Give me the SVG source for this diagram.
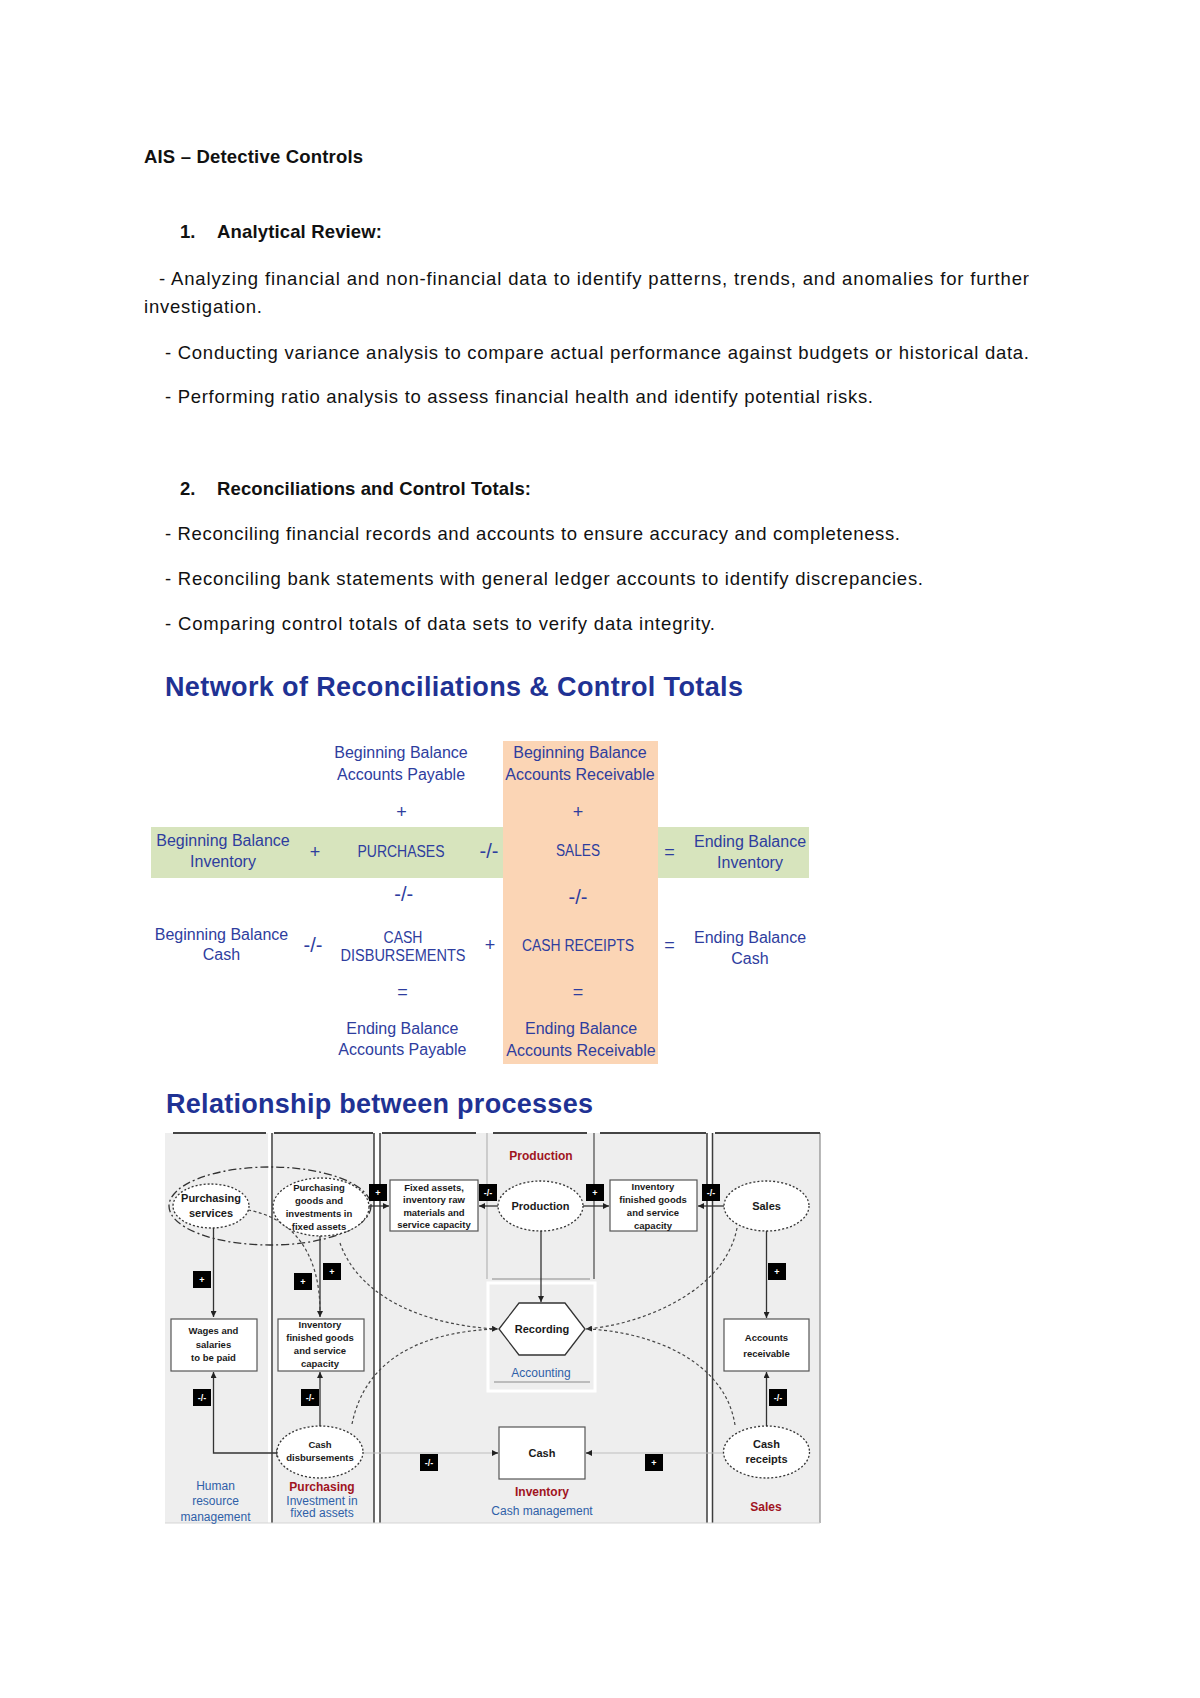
<svg xmlns="http://www.w3.org/2000/svg" width="1200" height="1698" viewBox="0 0 1200 1698">
<defs>
<style>
.bd{font-family:"Liberation Sans",Arial,sans-serif;font-size:18.5px;fill:#111}
.b{font-weight:bold}
.ttl{font-family:"Liberation Sans",Arial,sans-serif;font-size:27px;font-weight:bold;fill:#1F3294}
.nt{font-family:"Liberation Sans",Arial,sans-serif;font-size:16px;fill:#2E3D9E;text-anchor:middle}
.op{font-size:18px}
.sl{font-size:20px}
.lane{fill:#EEEEEE}
.vl{stroke:#3d3d3d;stroke-width:1.5}
.tl{stroke:#444;stroke-width:2}
.gl{stroke:#8a8a8a;stroke-width:1.2}
.box{fill:#fff;stroke:#555;stroke-width:1.2}
.ell{fill:#fff;stroke:#333;stroke-width:1.3;stroke-dasharray:2 2}
.big{fill:none;stroke:#333;stroke-width:1.3;stroke-dasharray:8 3 2 3}
.nd{font-family:"Liberation Sans",Arial,sans-serif;font-size:9.5px;font-weight:bold;fill:#1a1a1a;text-anchor:middle}
.ne{font-size:11px}
.sq{fill:#000}
.sqt{font-family:"Liberation Sans",Arial,sans-serif;font-size:9px;font-weight:bold;fill:#fff;text-anchor:middle}
.lr{font-family:"Liberation Sans",Arial,sans-serif;font-size:12px;font-weight:bold;fill:#A0141E;text-anchor:middle}
.lb{font-family:"Liberation Sans",Arial,sans-serif;font-size:12px;fill:#2F5FA8;text-anchor:middle}
.c{fill:none;stroke:#333;stroke-width:1.3}
.cl{fill:none;stroke:#bdbdbd;stroke-width:1.2}
.dd{fill:none;stroke:#444;stroke-width:1.2;stroke-dasharray:3 2.5}
</style>
<marker id="ah" viewBox="0 0 8 8" refX="8" refY="4" markerWidth="6" markerHeight="6" markerUnits="userSpaceOnUse" orient="auto">
<path d="M0,0 L8,4 L0,8 z" fill="#222"/>
</marker>
</defs>
<rect width="1200" height="1698" fill="#fff"/>

<g id="text-section">
<text class="bd b" x="144" y="163" textLength="219">AIS – Detective Controls</text>
<text class="bd b" x="180" y="238">1.</text>
<text class="bd b" x="217" y="238" textLength="165">Analytical Review:</text>
<text class="bd" x="159" y="285" textLength="870">- Analyzing financial and non-financial data to identify patterns, trends, and anomalies for further</text>
<text class="bd" x="144" y="313" textLength="118">investigation.</text>
<text class="bd" x="165" y="359" textLength="864">- Conducting variance analysis to compare actual performance against budgets or historical data.</text>
<text class="bd" x="165" y="403" textLength="708">- Performing ratio analysis to assess financial health and identify potential risks.</text>
<text class="bd b" x="180" y="495">2.</text>
<text class="bd b" x="217" y="495" textLength="314">Reconciliations and Control Totals:</text>
<text class="bd" x="165" y="540" textLength="735">- Reconciling financial records and accounts to ensure accuracy and completeness.</text>
<text class="bd" x="165" y="585" textLength="758">- Reconciling bank statements with general ledger accounts to identify discrepancies.</text>
<text class="bd" x="165" y="630" textLength="550">- Comparing control totals of data sets to verify data integrity.</text>
</g>

<g id="network">
<text class="ttl" x="165" y="696" textLength="578">Network of Reconciliations &amp; Control Totals</text>
<rect id="band-inventory" x="151" y="827" width="658" height="51" fill="#D7E4BD"/>
<rect id="band-ar" x="503" y="741" width="155" height="323" fill="#FBD5B5"/>
<g id="n-bb-ap"><text class="nt" x="401" y="758">Beginning Balance</text><text class="nt" x="401" y="779.5">Accounts Payable</text></g>
<g id="n-bb-ar"><text class="nt" x="580" y="758">Beginning Balance</text><text class="nt" x="580" y="779.5">Accounts Receivable</text></g>
<text class="nt op" x="401.5" y="817.5">+</text>
<text class="nt op" x="578" y="817.5">+</text>
<g id="n-bb-inv"><text class="nt" x="223" y="846">Beginning Balance</text><text class="nt" x="223" y="867">Inventory</text></g>
<text class="nt op" x="315" y="857.5">+</text>
<g id="n-purchases"><text class="nt" x="401" y="857" textLength="87" lengthAdjust="spacingAndGlyphs">PURCHASES</text></g>
<text class="nt sl" x="489" y="858">-/-</text>
<g id="n-sales"><text class="nt" x="578" y="856" textLength="44" lengthAdjust="spacingAndGlyphs">SALES</text></g>
<text class="nt op" x="669.6" y="857.5">=</text>
<g id="n-eb-inv"><text class="nt" x="750" y="847">Ending Balance</text><text class="nt" x="750" y="868">Inventory</text></g>
<text class="nt sl" x="403.7" y="901">-/-</text>
<text class="nt sl" x="578" y="904">-/-</text>
<g id="n-bb-cash"><text class="nt" x="221.5" y="939.5">Beginning Balance</text><text class="nt" x="221.5" y="960">Cash</text></g>
<text class="nt sl" x="313" y="951.5">-/-</text>
<g id="n-cashdisb"><text class="nt" x="403" y="943" textLength="39" lengthAdjust="spacingAndGlyphs">CASH</text><text class="nt" x="403" y="960.5" textLength="125" lengthAdjust="spacingAndGlyphs">DISBURSEMENTS</text></g>
<text class="nt op" x="490" y="951">+</text>
<g id="n-cashrec"><text class="nt" x="578" y="950.5" textLength="112" lengthAdjust="spacingAndGlyphs">CASH RECEIPTS</text></g>
<text class="nt op" x="669.6" y="951">=</text>
<g id="n-eb-cash"><text class="nt" x="750" y="943">Ending Balance</text><text class="nt" x="750" y="964">Cash</text></g>
<text class="nt op" x="402.4" y="997.5">=</text>
<text class="nt op" x="578" y="998">=</text>
<g id="n-eb-ap"><text class="nt" x="402.4" y="1034">Ending Balance</text><text class="nt" x="402.4" y="1055">Accounts Payable</text></g>
<g id="n-eb-ar"><text class="nt" x="581" y="1034">Ending Balance</text><text class="nt" x="581" y="1055.5">Accounts Receivable</text></g>
</g>

<g id="processes">
<text class="ttl" x="166" y="1113" textLength="427">Relationship between processes</text>
<g id="lanes">
<rect class="lane" x="165" y="1133" width="103" height="390"/>
<rect class="lane" x="273" y="1133" width="101" height="390"/>
<rect class="lane" x="380" y="1133" width="327" height="390"/>
<rect class="lane" x="713" y="1133" width="107" height="390"/>
<line class="vl" x1="272" y1="1133" x2="272" y2="1523"/>
<line class="vl" x1="374" y1="1133" x2="374" y2="1523"/>
<line class="vl" x1="380" y1="1133" x2="380" y2="1523"/>
<line class="vl" x1="707" y1="1133" x2="707" y2="1523"/>
<line class="vl" x1="712.5" y1="1133" x2="712.5" y2="1523"/>
<line class="gl" x1="820" y1="1133" x2="820" y2="1523"/>
<line class="tl" x1="173" y1="1133" x2="266" y2="1133"/>
<line class="tl" x1="274" y1="1133" x2="373" y2="1133"/>
<line class="tl" x1="382" y1="1133" x2="476" y2="1133"/>
<line class="tl" x1="493" y1="1133" x2="587" y2="1133"/>
<line class="tl" x1="600" y1="1133" x2="706" y2="1133"/>
<line class="tl" x1="715" y1="1133" x2="820" y2="1133"/>
<line x1="487" y1="1133" x2="487" y2="1279" stroke="#b5b5b5" stroke-width="1.2"/>
<line x1="594" y1="1133" x2="594" y2="1279" stroke="#555" stroke-width="1.3"/>
<line class="gl" x1="492" y1="1279" x2="590" y2="1279"/>
<rect x="488" y="1283" width="107" height="108" fill="#EEEEEE" stroke="#fff" stroke-width="3"/>
<line class="gl" x1="494" y1="1382" x2="590" y2="1382"/>
<line x1="165" y1="1523" x2="820" y2="1523" stroke="#d5d5d5" stroke-width="1"/>
</g>

<g id="connectors">
<path class="c" d="M213.5,1228 V1317" marker-end="url(#ah)"/>
<path class="c" d="M320,1236 V1317" marker-end="url(#ah)"/>
<path class="dd" d="M248,1210 C292,1218 320,1252 320,1312"/>
<path class="c" d="M369,1206 H389" marker-end="url(#ah)"/>
<path class="c" d="M498,1206 H479" marker-end="url(#ah)"/>
<path class="c" d="M583,1206 H609" marker-end="url(#ah)"/>
<path class="c" d="M724,1206 H698" marker-end="url(#ah)"/>
<path class="c" d="M541,1231 V1302" marker-end="url(#ah)"/>
<path class="c" d="M766.5,1231 V1318" marker-end="url(#ah)"/>
<path class="c" d="M277,1453 H213.5 V1372" marker-end="url(#ah)" stroke-width="1.6"/>
<path class="c" d="M277,1449 V1457"/>
<path class="c" d="M320,1426 V1372" marker-end="url(#ah)"/>
<path class="c" d="M766.5,1426 V1372" marker-end="url(#ah)"/>
<path class="cl" d="M363,1453 H494"/>
<path class="c" d="M492,1453 H498" marker-end="url(#ah)"/>
<path class="cl" d="M723,1453 H590"/>
<path class="c" d="M592,1453 H586" marker-end="url(#ah)"/>
<path class="dd" d="M340,1243 C360,1300 430,1326 498,1329" marker-end="url(#ah)"/>
<path class="dd" d="M352,1424 C365,1360 420,1332 496,1329"/>
<path class="dd" d="M737,1228 C725,1292 640,1325 586,1329" marker-end="url(#ah)"/>
<path class="dd" d="M735,1425 C725,1360 650,1332 588,1329"/>
</g>

<g id="n-purch-group"><ellipse class="big" cx="270" cy="1206" rx="101" ry="39"/></g>
<g id="n-purch-services">
<ellipse class="ell" cx="211" cy="1206" rx="38" ry="22"/>
<text class="nd ne" x="211" y="1202">Purchasing</text>
<text class="nd ne" x="211" y="1217">services</text>
</g>
<g id="n-purch-goods">
<ellipse class="ell" cx="321" cy="1207" rx="48" ry="29"/>
<text class="nd" x="319" y="1190.5">Purchasing</text>
<text class="nd" x="319" y="1204">goods and</text>
<text class="nd" x="319" y="1216.5">investments in</text>
<text class="nd" x="319" y="1229.5">fixed assets</text>
</g>
<g id="n-fixed-assets">
<rect class="box" x="390" y="1180" width="88" height="51"/>
<text class="nd" x="434" y="1190.5">Fixed assets,</text>
<text class="nd" x="434" y="1203">inventory raw</text>
<text class="nd" x="434" y="1215.5">materials and</text>
<text class="nd" x="434" y="1228">service capacity</text>
</g>
<g id="n-production">
<text class="lr" x="541" y="1160">Production</text>
<ellipse class="ell" cx="540.5" cy="1206" rx="42.5" ry="25"/>
<text class="nd ne" x="540.5" y="1210">Production</text>
</g>
<g id="n-inv-fg-top">
<rect class="box" x="610" y="1180" width="87" height="51"/>
<text class="nd" x="653" y="1189.5">Inventory</text>
<text class="nd" x="653" y="1202.5">finished goods</text>
<text class="nd" x="653" y="1215.5">and service</text>
<text class="nd" x="653" y="1228.5">capacity</text>
</g>
<g id="n-sales-p">
<ellipse class="ell" cx="766.5" cy="1206" rx="42.5" ry="25"/>
<text class="nd ne" x="766.5" y="1210">Sales</text>
</g>
<g id="n-wages">
<rect class="box" x="171" y="1319" width="86" height="52"/>
<text class="nd" x="213.5" y="1334">Wages and</text>
<text class="nd" x="213.5" y="1347.5">salaries</text>
<text class="nd" x="213.5" y="1361">to be paid</text>
</g>
<g id="n-inv-fg-purch">
<rect class="box" x="278" y="1319" width="86" height="52"/>
<text class="nd" x="320" y="1327.5">Inventory</text>
<text class="nd" x="320" y="1340.5">finished goods</text>
<text class="nd" x="320" y="1353.5">and service</text>
<text class="nd" x="320" y="1366.5">capacity</text>
</g>
<g id="n-recording">
<polygon points="499,1329 519,1303 565,1303 585,1329 565,1355 519,1355" fill="#fff" stroke="#333" stroke-width="1.3"/>
<text class="nd ne" x="542" y="1333">Recording</text>
<text class="lb" x="541" y="1377">Accounting</text>
</g>
<g id="n-ar">
<rect class="box" x="724" y="1319" width="85" height="52"/>
<text class="nd" x="766.5" y="1341">Accounts</text>
<text class="nd" x="766.5" y="1357">receivable</text>
</g>
<g id="n-cash-disb">
<ellipse class="ell" cx="320" cy="1452" rx="43" ry="26"/>
<text class="nd" x="320" y="1447.5">Cash</text>
<text class="nd" x="320" y="1461">disbursements</text>
</g>
<g id="n-cash">
<rect class="box" x="499" y="1427" width="86" height="52"/>
<text class="nd ne" x="542" y="1457">Cash</text>
</g>
<g id="n-cash-rec">
<ellipse class="ell" cx="766.5" cy="1452" rx="43" ry="26"/>
<text class="nd ne" x="766.5" y="1448">Cash</text>
<text class="nd ne" x="766.5" y="1463">receipts</text>
</g>

<g id="signs">
<rect class="sq" x="193" y="1271" width="18" height="17"/><text class="sqt" x="202" y="1282.5">+</text>
<rect class="sq" x="294" y="1273" width="18" height="17"/><text class="sqt" x="303" y="1284.5">+</text>
<rect class="sq" x="323" y="1263" width="18" height="17"/><text class="sqt" x="332" y="1274.5">+</text>
<rect class="sq" x="369" y="1184" width="18" height="17"/><text class="sqt" x="378" y="1195.5">+</text>
<rect class="sq" x="479" y="1184" width="18" height="17"/><text class="sqt" x="488" y="1195.5">-/-</text>
<rect class="sq" x="586" y="1184" width="18" height="17"/><text class="sqt" x="595" y="1195.5">+</text>
<rect class="sq" x="702" y="1184" width="18" height="17"/><text class="sqt" x="711" y="1195.5">-/-</text>
<rect class="sq" x="768" y="1263" width="18" height="17"/><text class="sqt" x="777" y="1274.5">+</text>
<rect class="sq" x="193" y="1389" width="18" height="17"/><text class="sqt" x="202" y="1400.5">-/-</text>
<rect class="sq" x="301" y="1389" width="18" height="17"/><text class="sqt" x="310" y="1400.5">-/-</text>
<rect class="sq" x="420" y="1454" width="18" height="17"/><text class="sqt" x="429" y="1465.5">-/-</text>
<rect class="sq" x="645" y="1454" width="18" height="17"/><text class="sqt" x="654" y="1465.5">+</text>
<rect class="sq" x="769" y="1389" width="18" height="17"/><text class="sqt" x="778" y="1400.5">-/-</text>
</g>

<g id="lane-labels">
<text class="lb" x="215.5" y="1490">Human</text>
<text class="lb" x="215.5" y="1505">resource</text>
<text class="lb" x="215.5" y="1521">management</text>
<text class="lr" x="322" y="1491">Purchasing</text>
<text class="lb" x="322" y="1505">Investment in</text>
<text class="lb" x="322" y="1517">fixed assets</text>
<text class="lr" x="542" y="1496">Inventory</text>
<text class="lb" x="542" y="1515">Cash management</text>
<text class="lr" x="766" y="1511">Sales</text>
</g>
</g>
</svg>
